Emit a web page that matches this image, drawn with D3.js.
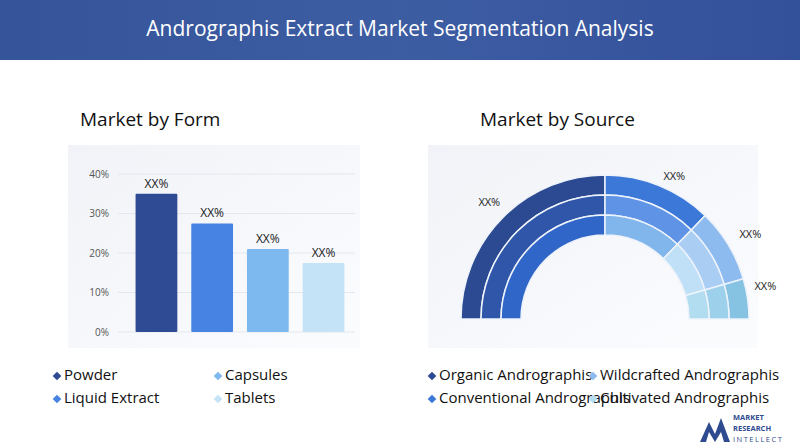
<!DOCTYPE html>
<html><head><meta charset="utf-8">
<script src="https://cdn.jsdelivr.net/npm/d3@7"></script>
<style>body{margin:0;background:#fff;font-family:"Open Sans",sans-serif}</style>
</head><body><svg id="c" width="800" height="448"></svg>
<script>
const formCats = ["Powder", "Liquid Extract", "Capsules", "Tablets"];
const formValues = [35, 27.5, 21, 17.5];
const formColors = ["#2f4b93", "#4683e3", "#7db8ee", "#c4e3f7"];
const yTicks = [0, 10, 20, 30, 40];

const sourceCats = ["Organic Andrographis", "Conventional Andrographis", "Wildcrafted Andrographis", "Cultivated Andrographis"];
const sourceValues = [50, 24.5, 16.5, 9];
const ringColors = [
  ["#2b4a92", "#2f56a8", "#2f66c8"],
  ["#3c78d8", "#5e93e6", "#80b6ec"],
  ["#8dbbef", "#a9cdf3", "#bfe0f6"],
  ["#86c3e3", "#9dd0ea", "#b2dcef"]
];

const svg = d3.select("#c");
const defs = svg.append("defs");
const bg = defs.append("linearGradient").attr("id", "bg").attr("x1", 0).attr("y1", 0).attr("x2", 1).attr("y2", 1);
bg.append("stop").attr("offset", 0).attr("stop-color", "#f1f3f8");
bg.append("stop").attr("offset", 1).attr("stop-color", "#fbfcfe");
const hd = defs.append("linearGradient").attr("id", "hd").attr("x1", 0).attr("y1", 0).attr("x2", 1).attr("y2", 0);
hd.append("stop").attr("offset", 0).attr("stop-color", "#35549a");
hd.append("stop").attr("offset", 0.5).attr("stop-color", "#3d5da3");
hd.append("stop").attr("offset", 1).attr("stop-color", "#33509a");
svg.append("rect").attr("width", 800).attr("height", 448).attr("fill", "#fff");
svg.append("rect").attr("width", 800).attr("height", 60).attr("fill", "url(#hd)");
svg.append("text").attr("x", 400).attr("y", 30).attr("text-anchor", "middle").attr("dominant-baseline", "middle")
  .attr("fill", "#fff").attr("font-size", 21).text("Andrographis Extract Market Segmentation Analysis");

svg.append("text").attr("x", 80).attr("y", 126).attr("font-size", 19).attr("fill", "#111").text("Market by Form");
svg.append("text").attr("x", 480).attr("y", 126).attr("font-size", 19).attr("fill", "#111").text("Market by Source");

// bar chart
svg.append("rect").attr("x", 68).attr("y", 145).attr("width", 292).attr("height", 203).attr("fill", "url(#bg)");
const x = d3.scaleBand().domain(formCats).range([130, 350]).paddingInner(0.25).paddingOuter(0.1);
const y = d3.scaleLinear().domain([0, 40]).range([332, 174]);
const g = svg.append("g");
g.selectAll(".grid").data(yTicks).join("line").attr("x1", 118).attr("x2", 355)
  .attr("y1", d => y(d)).attr("y2", d => y(d)).attr("stroke", "#e3e7ef");
const ax = g.append("g").attr("transform", "translate(112,0)")
  .call(d3.axisLeft(y).tickValues(yTicks).tickFormat(d => d + "%").tickSize(0));
ax.select(".domain").remove();
ax.selectAll("text").attr("fill", "#555").attr("font-size", 10).attr("font-family", "Open Sans");
g.selectAll(".bar").data(formCats).join("rect").attr("x", d => x(d)).attr("width", x.bandwidth())
  .attr("y", (d, i) => y(formValues[i])).attr("height", (d, i) => y(0) - y(formValues[i]))
  .attr("fill", (d, i) => formColors[i]).attr("rx", 1);
g.selectAll(".lbl").data(formCats).join("text").attr("x", d => x(d) + x.bandwidth() / 2)
  .attr("y", (d, i) => y(formValues[i]) - 6).attr("text-anchor", "middle").attr("font-size", 12)
  .attr("fill", "#222").text("XX%");

// donut
svg.append("rect").attr("x", 428).attr("y", 145).attr("width", 330).attr("height", 203).attr("fill", "url(#bg)");
const cx = 605, cy = 319;
const pie = d3.pie().sort(null).startAngle(-Math.PI / 2).endAngle(Math.PI / 2);
const arcs = pie(sourceValues);
const radii = [[124, 144], [104, 124], [84, 104]];
const dg = svg.append("g").attr("transform", `translate(${cx},${cy})`);
radii.forEach((r, ri) => {
  const arc = d3.arc().innerRadius(r[0]).outerRadius(r[1]);
  dg.selectAll(".r" + ri).data(arcs).join("path").attr("d", arc)
    .attr("fill", (d, i) => ringColors[i][ri]).attr("stroke", "#eef3fb").attr("stroke-width", 1.5);
});
const lblArc = d3.arc().innerRadius(158).outerRadius(158);
const lblShift = [[-4, -4], [10, 4], [10, -2], [4, -10]];
dg.selectAll(".dl").data(arcs).join("text")
  .attr("x", (d, i) => lblArc.centroid(d)[0] + lblShift[i][0])
  .attr("y", (d, i) => lblArc.centroid(d)[1] + lblShift[i][1])
  .attr("text-anchor", "middle").attr("dominant-baseline", "middle").attr("font-size", 11).attr("fill", "#222")
  .text("XX%");

// legends
function legend(items, colors, x0, x1, y0) {
  items.forEach((t, i) => {
    const lx = i % 2 === 0 ? x0 : x1, ly = y0 + Math.floor(i / 2) * 23;
    svg.append("path").attr("d", d3.symbol(d3.symbolSquare, 38)()).attr("transform", `translate(${lx},${ly}) rotate(45)`)
      .attr("fill", colors[i]);
    svg.append("text").attr("x", lx + 7).attr("y", ly).attr("dominant-baseline", "middle")
      .attr("font-size", 15).attr("fill", "#111").text(t);
  });
}
legend(["Powder", "Capsules", "Liquid Extract", "Tablets"], [formColors[0], formColors[2], formColors[1], formColors[3]], 57, 218, 376);
legend(["Organic Andrographis", "Wildcrafted Andrographis", "Conventional Andrographis", "Cultivated Andrographis"],
  [ringColors[0][0], ringColors[2][0], ringColors[1][0], ringColors[3][2]], 432, 593, 376);

// logo
const lg = svg.append("g").attr("transform", "translate(700,410)");
lg.append("path").attr("d", "M0,32 L9,12 L15,24 L21,8 L30,32 L24,32 L21,22 L15,32 L9,22 L6,32 Z").attr("fill", "#2f4b8f");
lg.append("text").attr("x", 33).attr("y", 10).attr("font-size", 7.5).attr("font-weight", "bold").attr("fill", "#2f4b8f").text("MARKET");
lg.append("text").attr("x", 33).attr("y", 21).attr("font-size", 7.5).attr("font-weight", "bold").attr("fill", "#2f4b8f").text("RESEARCH");
lg.append("text").attr("x", 33).attr("y", 32).attr("font-size", 7.5).attr("fill", "#2f4b8f").attr("letter-spacing", 1.5).text("INTELLECT");
</script></body></html>
